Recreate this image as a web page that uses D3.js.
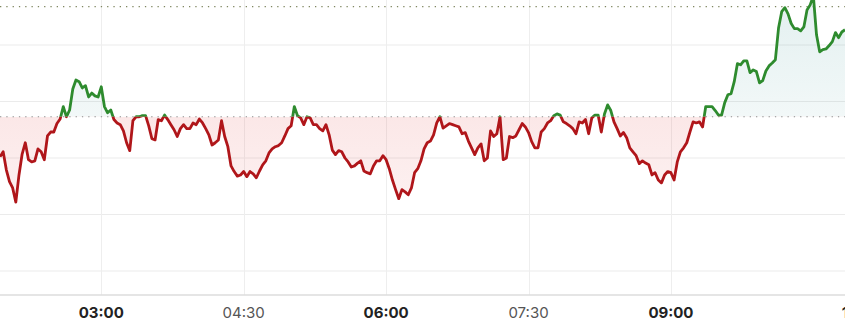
<!DOCTYPE html>
<html>
<head>
<meta charset="utf-8">
<script src="https://cdn.jsdelivr.net/npm/d3@7"></script>
<style>
  html, body { margin: 0; padding: 0; background: #fff; overflow: hidden; }
  svg { display: block; }
</style>
</head>
<body>
<div id="chart"></div>
<script>
// price every 2 minutes, starting 01:56
var startTime = "01:56";
var stepMinutes = 2;
var prices = [
  2460.2, 2461.1, 2457.9, 2455.8, 2454.7, 2452.2, 2457.0, 2460.7, 2462.7, 2459.7,
  2459.3, 2459.5, 2461.6, 2461.1, 2459.7, 2463.9, 2464.6, 2464.6, 2466.1, 2466.9,
  2469.1, 2467.3, 2468.5, 2472.2, 2473.8, 2473.5, 2472.4, 2472.8, 2470.8, 2471.5,
  2471.0, 2470.8, 2472.6, 2469.1, 2468.0, 2468.5, 2466.8, 2466.2, 2465.9, 2464.8,
  2462.7, 2461.3, 2466.6, 2467.3, 2467.3, 2467.5, 2467.5, 2465.7, 2463.4, 2463.2,
  2466.8, 2466.6, 2467.6, 2466.8, 2465.9, 2465.0, 2463.8, 2465.2, 2465.9, 2465.2,
  2465.2, 2466.2, 2465.9, 2466.9, 2466.2, 2465.2, 2464.1, 2462.3, 2462.7, 2463.2,
  2466.6, 2463.8, 2462.0, 2458.6, 2457.6, 2456.8, 2457.0, 2457.6, 2456.7, 2457.6,
  2457.2, 2456.5, 2457.7, 2458.8, 2459.5, 2460.9, 2461.6, 2462.0, 2462.2, 2462.7,
  2463.9, 2465.2, 2465.7, 2469.1, 2467.5, 2467.1, 2465.9, 2467.3, 2467.1, 2465.9,
  2465.9, 2465.2, 2464.8, 2465.9, 2464.1, 2461.4, 2460.6, 2461.3, 2461.1, 2460.0,
  2459.3, 2458.4, 2458.6, 2459.1, 2459.5, 2457.7, 2457.4, 2457.2, 2458.6, 2459.5,
  2459.5, 2460.4, 2459.7, 2458.1, 2456.1, 2454.4, 2452.8, 2454.4, 2454.0, 2453.5,
  2454.7, 2457.4, 2458.1, 2459.5, 2461.6, 2462.7, 2463.0, 2464.1, 2466.2, 2467.3,
  2465.3, 2465.7, 2466.1, 2465.9, 2465.7, 2465.5, 2464.3, 2464.5, 2463.0, 2461.8,
  2460.6, 2461.8, 2462.5, 2459.5, 2460.0, 2464.8, 2463.8, 2464.3, 2467.3, 2459.7,
  2460.0, 2463.8, 2463.6, 2463.9, 2465.0, 2466.1, 2465.5, 2464.5, 2462.9, 2461.8,
  2461.8, 2464.6, 2465.2, 2466.2, 2466.6, 2467.5, 2467.8, 2467.6, 2466.4, 2466.1,
  2465.7, 2465.2, 2464.3, 2466.4, 2466.2, 2466.8, 2464.3, 2467.1, 2467.6, 2467.6,
  2464.6, 2467.8, 2469.4, 2468.4, 2466.4, 2465.2, 2463.9, 2464.5, 2463.6, 2461.8,
  2461.1, 2460.4, 2459.0, 2459.5, 2459.1, 2458.8, 2457.0, 2457.4, 2456.1, 2455.6,
  2457.0, 2457.6, 2457.4, 2456.1, 2459.3, 2461.1, 2461.8, 2462.7, 2464.6, 2466.4,
  2466.2, 2466.4, 2465.5, 2469.1, 2469.1, 2469.1, 2468.4, 2467.6, 2467.6, 2469.8,
  2471.2, 2471.4, 2473.5, 2476.7, 2476.5, 2477.2, 2477.2, 2475.1, 2475.6, 2475.3,
  2473.3, 2473.7, 2475.4, 2476.3, 2476.8, 2477.4, 2483.0, 2485.9, 2486.6, 2485.5,
  2483.8, 2482.9, 2482.9, 2482.5, 2483.2, 2486.2, 2487.1, 2488.7, 2481.8, 2478.8,
  2479.2, 2479.3, 2479.9, 2480.6, 2482.2, 2481.3, 2482.3, 2482.7
];
var previousClose = 2467.3;
var highMark = 2486.8;
var gridValues = [2440, 2450, 2460, 2470, 2480];
var tickLabels = ["03:00", "04:30", "06:00", "07:30", "09:00", "11:00"];
var boldLabels = ["03:00", "06:00", "09:00", "11:00"];

var width = 845, height = 321;
var axisY = 295;

var parseTime = d3.timeParse("%H:%M");
var t0 = parseTime(startTime);
var data = prices.map(function(p, i) {
  return { date: d3.timeMinute.offset(t0, i * stepMinutes), value: p };
});

var x = d3.scaleTime()
  .domain(d3.extent(data, function(d) { return d.date; }))
  .range([0, width]);

var y = d3.scaleLinear()
  .domain([2440, 2480])
  .range([271, 45]);

var yBase = y(previousClose);

var svg = d3.select("#chart").append("svg")
  .attr("width", width)
  .attr("height", height);

var defs = svg.append("defs");
defs.append("clipPath").attr("id", "clip-up")
  .append("rect").attr("x", -5).attr("y", -20).attr("width", width + 10).attr("height", yBase + 20);
defs.append("clipPath").attr("id", "clip-down")
  .append("rect").attr("x", -5).attr("y", yBase).attr("width", width + 10).attr("height", axisY - yBase);

var gUp = defs.append("linearGradient").attr("id", "fill-up")
  .attr("gradientUnits", "userSpaceOnUse").attr("x1", 0).attr("x2", 0).attr("y1", 0).attr("y2", yBase);
gUp.append("stop").attr("offset", "0%").attr("stop-color", "#2a8c8c").attr("stop-opacity", 0.13);
gUp.append("stop").attr("offset", "100%").attr("stop-color", "#2a8c8c").attr("stop-opacity", 0.06);

var gDown = defs.append("linearGradient").attr("id", "fill-down")
  .attr("gradientUnits", "userSpaceOnUse").attr("x1", 0).attr("x2", 0).attr("y1", yBase).attr("y2", 205);
gDown.append("stop").attr("offset", "0%").attr("stop-color", "#e03a3a").attr("stop-opacity", 0.12);
gDown.append("stop").attr("offset", "100%").attr("stop-color", "#e03a3a").attr("stop-opacity", 0.07);

// grid
svg.append("g").selectAll("line")
  .data(gridValues)
  .enter().append("line")
  .attr("x1", 0).attr("x2", width)
  .attr("y1", function(d) { return y(d); })
  .attr("y2", function(d) { return y(d); })
  .attr("stroke", "#ebebeb")
  .attr("stroke-width", 1);

svg.append("g").selectAll("line")
  .data(tickLabels)
  .enter().append("line")
  .attr("x1", function(d) { return Math.round(x(parseTime(d))) + 0.5; })
  .attr("x2", function(d) { return Math.round(x(parseTime(d))) + 0.5; })
  .attr("y1", 0).attr("y2", axisY)
  .attr("stroke", "#eeeeee")
  .attr("stroke-width", 1);

svg.append("line")
  .attr("x1", 0).attr("x2", width)
  .attr("y1", axisY).attr("y2", axisY)
  .attr("stroke", "#dddddd")
  .attr("stroke-width", 1.5);

// areas
var area = d3.area()
  .x(function(d) { return x(d.date); })
  .y0(yBase)
  .y1(function(d) { return y(d.value); });

svg.append("path").datum(data)
  .attr("clip-path", "url(#clip-up)")
  .attr("fill", "url(#fill-up)")
  .attr("d", area);

svg.append("path").datum(data)
  .attr("clip-path", "url(#clip-down)")
  .attr("fill", "url(#fill-down)")
  .attr("d", area);

// reference lines
svg.append("line")
  .attr("x1", 0).attr("x2", width)
  .attr("y1", yBase).attr("y2", yBase)
  .attr("stroke", "#8e8e8e")
  .attr("stroke-width", 1.2)
  .attr("stroke-dasharray", "1.3,5");

svg.append("line")
  .attr("x1", 0).attr("x2", width)
  .attr("y1", y(highMark)).attr("y2", y(highMark))
  .attr("stroke", "#7f8660")
  .attr("stroke-width", 1.2)
  .attr("stroke-dasharray", "1.3,5");

// price line
var valueline = d3.line()
  .x(function(d) { return x(d.date); })
  .y(function(d) { return y(d.value); });

svg.append("path").datum(data)
  .attr("clip-path", "url(#clip-up)")
  .attr("fill", "none")
  .attr("stroke", "#2e8b2e")
  .attr("stroke-width", 2.8)
  .attr("stroke-linejoin", "round")
  .attr("d", valueline);

svg.append("path").datum(data)
  .attr("clip-path", "url(#clip-down)")
  .attr("fill", "none")
  .attr("stroke", "#b0161a")
  .attr("stroke-width", 2.8)
  .attr("stroke-linejoin", "round")
  .attr("d", valueline);

// time labels
svg.append("g").selectAll("text")
  .data(tickLabels)
  .enter().append("text")
  .attr("x", function(d) { return x(parseTime(d)); })
  .attr("y", 318)
  .attr("text-anchor", "middle")
  .style("font-family", "Inter, 'Noto Sans', sans-serif")
  .style("font-size", "15px")
  .style("font-weight", function(d) { return boldLabels.indexOf(d) >= 0 ? 700 : 400; })
  .style("fill", function(d) { return boldLabels.indexOf(d) >= 0 ? "#222" : "#555"; })
  .text(function(d) { return d; });
</script>
</body>
</html>
